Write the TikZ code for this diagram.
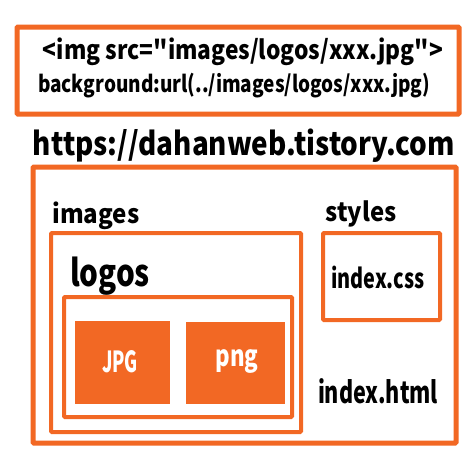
\documentclass[tikz,border=0pt]{standalone}
\usepackage{fontspec}
\usepackage{graphicx}
\setmainfont{Noto Sans CJK KR}[Ligatures=TeXOff]
\definecolor{org}{RGB}{242,104,36}
\newcommand{\fitw}[3]{\resizebox{#1pt}{\height}{\fontsize{#2}{#2}\selectfont\bfseries #3}}
\tikzset{
  box/.style={draw=org, line width=4pt, rounded corners=1pt},
  bigbox/.style={draw=org, line width=5pt, rounded corners=1pt},
  lbl/.style={inner sep=0pt, text=black},
  wlbl/.style={inner sep=0pt, text=white},
}
\begin{document}
\begin{tikzpicture}[x=1pt,y=-1pt]
\useasboundingbox[fill=white] (0,0) rectangle (474,474);
% boxes
\draw[bigbox] (17,27) rectangle (459,114);
\draw[bigbox] (33,167) rectangle (456,443);
\draw[box] (51,233) rectangle (301,432);
\draw[box] (323,233) rectangle (440,320);
\draw[box] (64,297) rectangle (292,417);
\fill[org] (75,321) rectangle (170,404);
\fill[org] (186,322) rectangle (285,404);
% texts
\node[lbl] (l1) at (243,52) {\fitw{400}{26}{<img src="images/logos/xxx.jpg">}};
\node[lbl] (l2) at (234,86) {\fitw{392}{23}{background:url(../images/logos/xxx.jpg)}};
\node[lbl] (url) at (244,146) {\fitw{422}{32}{https://dahanweb.tistory.com}};
\node[lbl] (images) at (96,216) {\fitw{87}{26}{images}};
\node[lbl] (styles) at (361,214) {\fitw{71}{26}{styles}};
\node[lbl] (logos) at (110,276) {\fitw{80}{37}{logos}};
\node[lbl] (css) at (378,277) {\fitw{93}{27}{index.css}};
\node[wlbl] (jpg) at (120,362) {\fitw{36}{29}{\color{white}JPG}};
\node[wlbl] (png) at (237,362) {\fitw{43}{29}{\color{white}png}};
\node[lbl] (html) at (378,391) {\fitw{120}{30}{index.html}};
\end{tikzpicture}
\end{document}
